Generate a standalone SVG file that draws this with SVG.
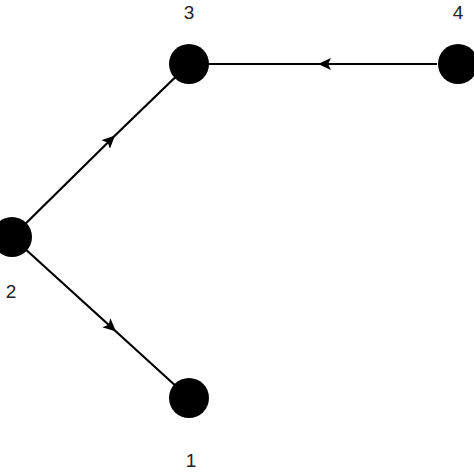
<svg xmlns="http://www.w3.org/2000/svg" width="474" height="474" viewBox="0 0 474 474">
<style>
.node{fill:#000}
.edge{fill:none;stroke:#000;stroke-width:2.2;marker-mid:url(#arr)}
.lbl{font-family:"Liberation Sans",Arial,sans-serif;font-size:19px;fill:#222;text-anchor:middle}
</style>
<defs>
<marker id="arr" viewBox="0 0 13 12" refX="13" refY="6" markerWidth="13" markerHeight="12" markerUnits="userSpaceOnUse" orient="auto">
<path d="M0,0 L13,6 L0,12 L3,6 Z" fill="#000"/>
</marker>
</defs>
<rect width="474" height="474" fill="#fff"/>
<g id="connectors">
<path class="edge" d="M437,64 L318,64 L209,64"/>
<path class="edge" d="M12,237 L115,135.5 L189,64"/>
<path class="edge" d="M12,237 L116,331.5 L189,398"/>
</g>
<g id="node1"><circle class="node" cx="189" cy="398" r="20"/><text class="lbl" x="191" y="467">1</text></g>
<g id="node2"><circle class="node" cx="12" cy="237" r="20"/><text class="lbl" x="11" y="298">2</text></g>
<g id="node3"><circle class="node" cx="189" cy="64" r="20"/><text class="lbl" x="189" y="19">3</text></g>
<g id="node4"><circle class="node" cx="458" cy="64" r="20"/><text class="lbl" x="458" y="19">4</text></g>
</svg>
